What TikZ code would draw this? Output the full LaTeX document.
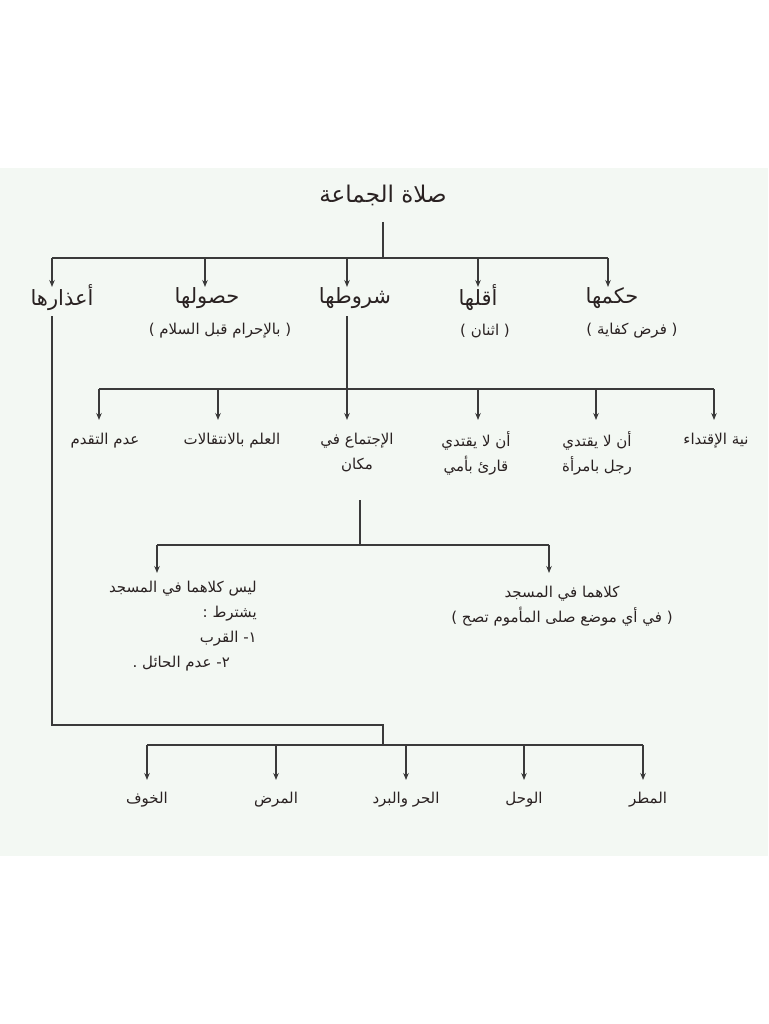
\documentclass[tikz,border=0pt]{standalone}
\usepackage{fontspec}
\TeXXeTstate=1
\newfontfamily\arabicfont[Script=Arabic]{DejaVu Sans}
\usetikzlibrary{arrows.meta}
\definecolor{bgc}{HTML}{F3F8F3}
\definecolor{txt}{HTML}{2A2222}
\definecolor{ln}{HTML}{3A3A3A}
\tikzset{
  big/.style={text=txt,font=\arabicfont\fontsize{21}{24}\selectfont,inner sep=1pt},
  title/.style={text=txt,font=\arabicfont\fontsize{23}{26}\selectfont,inner sep=1pt},
  small/.style={text=txt,font=\arabicfont\fontsize{15}{25}\selectfont,inner sep=1pt,align=center},
  conn/.style={draw=ln,line width=1.1pt},
  arr/.style={conn,-{Stealth[length=7pt,width=5.5pt]}}
}
\newcommand{\ar}[1]{\beginR #1\endR}
\begin{document}
\begin{tikzpicture}[x=1pt,y=-1pt]
\useasboundingbox (0,0) rectangle (768,1024);
\fill[bgc] (0,168) rectangle (768,856);
\node[title] (t) at (383,195) {\ar{صلاة الجماعة}};
\node[big] (a1) at (62,298) {\ar{أعذارها}};
\node[big] (a2) at (207,298) {\ar{حصولها}};
\node[big] (a3) at (355,298) {\ar{شروطها}};
\node[big] (a4) at (478,298) {\ar{أقلها}};
\node[big] (a5) at (612,298) {\ar{حكمها}};
\node[small] (s2) at (220,331) {\ar{( بالإحرام قبل السلام )}};
\node[small] (s4) at (485,331) {\ar{( اثنان )}};
\node[small] (s5) at (632,331) {\ar{( فرض كفاية )}};
\coordinate (tj) at (383,258);
\draw[conn] (383,222) -- (tj);
\draw[conn] (52,258) -- (608,258);
\foreach \x/\n in {52/a1,205/a2,347/a3,478/a4,608/a5}
  \draw[arr] (\x,258) -- (\x,287);
\node[small] (b1) at (105,441) {\ar{عدم التقدم}};
\node[small] (b2) at (232,441) {\ar{العلم بالانتقالات}};
\node[small] (b3) at (357,453) {\ar{الإجتماع في}\\\ar{مكان}};
\node[small] (b4) at (476,453) {\ar{أن لا يقتدي}\\\ar{قارئ بأمي}};
\node[small] (b5) at (597,453) {\ar{أن لا يقتدي}\\\ar{رجل بامرأة}};
\node[small] (b6) at (716,441) {\ar{نية الإقتداء}};
\draw[conn] (347,316) -- (347,389);
\draw[conn] (99,389) -- (714,389);
\foreach \x in {99,218,347,478,596,714}
  \draw[arr] (\x,389) -- (\x,420);
\coordinate (cj) at (360,545);
\draw[conn] (360,500) -- (cj);
\draw[conn] (157,545) -- (549,545);
\draw[arr] (157,545) -- (157,573);
\draw[arr] (549,545) -- (549,573);
\node[small,align=right,anchor=north east] (c1) at (258,580) {\ar{ليس كلاهما في المسجد}\\\ar{يشترط :}\hspace*{57pt}\\\ar{١- القرب}\hspace*{27pt}\\\ar{٢- عدم الحائل .}\hspace*{27pt}};
\node[small] (c2) at (562,606) {\ar{كلاهما في المسجد}\\\ar{( في أي موضع صلى المأموم تصح )}};
\draw[conn] (52,316) -- (52,725) -- (383,725) -- (383,745);
\draw[conn] (147,745) -- (643,745);
\foreach \x in {147,276,406,524,643}
  \draw[arr] (\x,745) -- (\x,780);
\node[small] (d1) at (147,800) {\ar{الخوف}};
\node[small] (d2) at (276,800) {\ar{المرض}};
\node[small] (d3) at (406,800) {\ar{الحر والبرد}};
\node[small] (d4) at (524,800) {\ar{الوحل}};
\node[small] (d5) at (648,800) {\ar{المطر}};
\end{tikzpicture}
\end{document}
